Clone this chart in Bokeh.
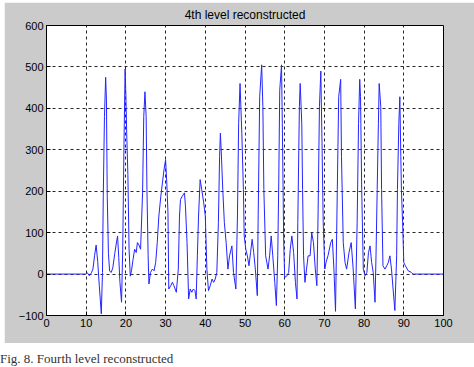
from bokeh.plotting import figure
from bokeh.models import Range1d, FixedTicker, Div, ColumnDataSource
from bokeh.layouts import column
from bokeh.embed import file_html
from bokeh.resources import INLINE

title_text = "4th level reconstructed"
caption_text = "Fig. 8.  Fourth level reconstructed"
x_ticks = [0, 10, 20, 30, 40, 50, 60, 70, 80, 90, 100]
y_ticks = [-100, 0, 100, 200, 300, 400, 500, 600]

sample_x = [
    0, 9.8, 10.3, 10.8, 11.3, 11.7, 12.1, 12.5, 12.9, 13.3, 13.8, 14.1, 14.3, 14.6, 14.9,
    15.1, 15.3, 15.6, 15.9, 16.3, 16.7, 17.2, 17.6, 17.9, 18.2, 18.5, 18.9, 19.2, 19.5, 19.8,
    20.0, 20.2, 20.5, 20.8, 21.1, 21.4, 21.8, 22.2, 22.6, 22.9, 23.3, 23.7, 24.2, 24.5, 24.8,
    25.1, 25.3, 25.6, 25.8, 26.2, 26.7, 27.1, 27.5, 27.9, 28.3, 28.8, 29.2, 29.6, 30.0, 30.3,
    30.6, 30.8, 31.3, 31.7, 32.1, 32.7, 33.2, 33.5, 33.75, 34.2, 34.75, 35.0, 35.4, 35.8, 36.2,
    36.6, 37.0, 37.4, 37.7, 38.0, 38.3, 38.7, 39.1, 39.6, 40.0, 40.4, 40.8, 41.25, 41.7, 42.1,
    42.5, 42.9, 43.3, 43.6, 43.8, 44.0, 44.4, 44.8, 45.25, 45.7, 46.1, 46.7, 47.1, 47.7, 48.1,
    48.4, 48.75, 49.2, 49.6, 49.8, 50.2, 50.6, 51.0, 51.4, 51.8, 52.2, 52.6, 53.1, 53.3, 53.7,
    54.2, 54.5, 54.75, 55.2, 55.5, 55.8, 56.2, 56.6, 57.0, 57.5, 57.9, 58.25, 58.5, 58.75, 59.2,
    59.4, 59.75, 60.0, 60.6, 61.0, 61.4, 61.8, 62.25, 62.7, 63.1, 63.3, 63.7, 63.9, 64.3, 64.5,
    64.75, 65.1, 65.5, 65.9, 66.4, 66.8, 67.25, 67.7, 68.1, 68.4, 68.75, 69.1, 69.4, 69.7, 70.1,
    70.4, 70.9, 71.6, 72.0, 72.4, 72.8, 73.25, 73.6, 74.1, 74.3, 74.75, 75.2, 75.6, 76.2, 76.75,
    77.25, 77.8, 78.25, 78.6, 78.9, 79.1, 79.4, 79.8, 80.25, 80.7, 81.1, 81.5, 81.9, 82.3, 82.75,
    83.0, 83.3, 83.6, 83.8, 84.2, 84.4, 84.75, 85.25, 85.7, 86.1, 86.5, 86.9, 87.3, 87.75, 88.2,
    88.4, 88.75, 89.0, 89.25, 89.4, 89.7, 90.0, 90.4, 91.1, 91.9, 92.3, 100,
]
amplitude = [
    0, 0, 3, -4, 3, 12, 44, 70, 30, -28, -96, 4, 188, 380, 475,
    420, 188, 50, 7, 4, 15, 50, 75, 92, 40, -20, -68, 60, 300, 495,
    430, 340, 240, 60, -5, 8, 35, 60, 52, 76, 70, 60, 196, 380, 440,
    380, 204, 44, -24, 4, 12, 8, 28, 76, 140, 188, 220, 252, 276, 220,
    148, -36, -28, -20, -28, -44, 12, 140, 180, 188, 196, 164, 76, -60, -36,
    -44, -36, -40, -60, 44, 140, 228, 204, 172, 140, 12, -40, -28, -12, -20,
    -12, 4, 124, 284, 340, 300, 204, 124, 76, 12, 44, 68, 4, -36, 140,
    364, 460, 340, 204, 92, 60, 44, 20, 52, 84, 52, 12, -52, 124, 428,
    505, 404, 204, 44, 28, 12, 44, 92, 44, -20, -76, 44, 220, 444, 505,
    364, 76, -8, -4, 4, 60, 92, 52, -20, -60, 124, 404, 460, 364, 204,
    44, -20, 12, 44, 44, 100, 76, 12, -28, 140, 404, 490, 316, 124, 12,
    28, 44, 76, 84, 12, -90, 204, 428, 470, 284, 76, 28, 12, 52, 76,
    12, -84, 124, 364, 470, 428, 204, 12, -4, 4, 52, 68, 28, 4, -68,
    44, 204, 364, 460, 404, 204, 20, 12, 20, 28, 44, 12, -36, -88, 44,
    204, 364, 428, 284, 204, 124, 28, 20, 8, 4, 0, 0,
]

source = ColumnDataSource(data=dict(x=sample_x, y=amplitude))

GREY = "#cbcbcb"

p = figure(
    width=470, height=341,
    x_range=Range1d(0, 100), y_range=Range1d(-100, 600),
    output_backend="svg", toolbar_location=None,
    min_border_left=42, min_border_right=31, min_border_top=21, min_border_bottom=28,
    title=title_text,
)
p.margin = (2, 0, 0, 4)
p.border_fill_color = GREY
p.background_fill_color = "white"
p.outline_line_color = "black"
p.outline_line_width = 1

p.title.align = "center"
p.title.text_font = "Liberation Sans"
p.title.text_font_size = "12px"
p.title.text_font_style = "normal"
p.title.text_color = "black"
p.title.standoff = 7

for ax, ticks in ((p.xaxis[0], x_ticks), (p.yaxis[0], y_ticks)):
    ax.ticker = FixedTicker(ticks=ticks)
    ax.major_tick_in = 4
    ax.major_tick_out = 0
    ax.minor_tick_line_color = None
    ax.axis_line_color = "black"
    ax.major_tick_line_color = "black"
    ax.major_label_text_font = "Liberation Sans"
    ax.major_label_text_font_size = "11px"
    ax.major_label_text_color = "black"
    ax.major_label_standoff = 3

p.xgrid.ticker = FixedTicker(ticks=x_ticks)
p.ygrid.ticker = FixedTicker(ticks=y_ticks)
for g in (p.xgrid[0], p.ygrid[0]):
    g.grid_line_color = "black"
    g.grid_line_dash = "3 3"
    g.grid_line_alpha = 0.85
    g.grid_line_width = 1

p.line("x", "y", source=source, line_color="#2424ff", line_width=1)

caption = Div(
    text=caption_text,
    width=474, height=16,
    margin=(9, 0, 0, 0),
    styles={"font-family": "Liberation Serif", "font-size": "13px", "line-height": "14px",
            "color": "#333333", "white-space": "nowrap"},
)

layout = column(p, caption, spacing=0)
layout.styles = {"background-color": "white"}

open("out.html", "w").write(file_html(layout, INLINE))
